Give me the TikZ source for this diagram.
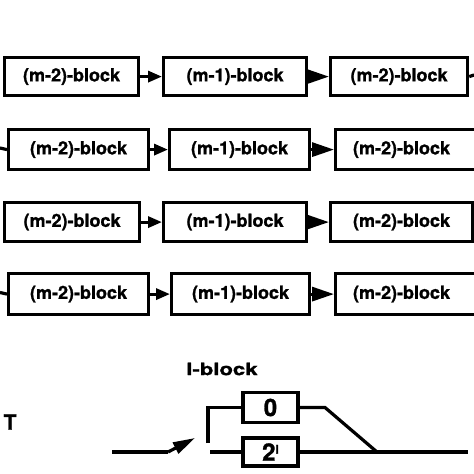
\documentclass[tikz,border=0pt]{standalone}
\usepackage{fontspec}
\setmainfont{TeX Gyre Heros}[BoldFeatures={FakeBold=1.2}]
\usetikzlibrary{arrows.meta}
\begin{document}
\begin{tikzpicture}[x=1pt,y=-1pt, line width=3.2pt,
  blk/.style={draw, inner sep=0pt, anchor=north west,
    font=\fontsize{18}{18}\selectfont\bfseries},
  sw/.style={draw, inner sep=0pt, minimum width=55pt,
    font=\fontsize{24}{24}\selectfont\bfseries},
  arrA/.style={-{Triangle[length=14pt,width=11pt]}},
  arrB/.style={-{Triangle[length=22pt,width=14pt]}},
  arrC/.style={-{Triangle[length=22pt,width=12pt]}}]
\useasboundingbox (0,0) rectangle (474,474);
\clip (0,0) rectangle (474,474);
% row 1
\node[blk, minimum width=134pt, minimum height=38pt] (a1) at (3,56) {(m-2)-block};
\node[blk, minimum width=143pt, minimum height=38pt] (a2) at (162,56) {(m-1)-block};
\node[blk, minimum width=137pt, minimum height=38pt] (a3) at (329,56) {(m-2)-block};
\coordinate (ae) at (474,75);
\draw[arrA] (a1.east) -- (a2.west);
\draw[arrB] (a2.east) -- (a3.west);
\draw (a3.east) -- (ae);
% row 2
\coordinate (bs) at (0,148);
\node[blk, minimum width=140pt, minimum height=40pt] (b1) at (7,128) {(m-2)-block};
\node[blk, minimum width=140pt, minimum height=40pt] (b2) at (168,128) {(m-1)-block};
\node[blk, minimum width=144pt, minimum height=40pt] (b3) at (334,128) {\hspace*{-12pt}(m-2)-block};
\draw (bs) -- (b1.west);
\draw[arrA] (b1.east) -- (b2.west);
\draw[arrB] (b2.east) -- (b3.west);
% row 3
\node[blk, minimum width=135pt, minimum height=39pt] (c1) at (3,201) {(m-2)-block};
\node[blk, minimum width=143pt, minimum height=39pt] (c2) at (162,201) {(m-1)-block};
\node[blk, minimum width=142pt, minimum height=39pt] (c3) at (329,201) {(m-2)-block};
\draw[arrA] (c1.east) -- (c2.west);
\draw[arrB] (c2.east) -- (c3.west);
% row 4
\coordinate (ds) at (0,292.5);
\node[blk, minimum width=140pt, minimum height=41pt] (d1) at (7,272) {(m-2)-block};
\node[blk, minimum width=138pt, minimum height=41pt] (d2) at (170,272) {(m-1)-block};
\node[blk, minimum width=144pt, minimum height=41pt] (d3) at (334,272) {\hspace*{-12pt}(m-2)-block};
\draw (ds) -- (d1.west);
\draw[arrA] (d1.east) -- (d2.west);
\draw[arrB] (d2.east) -- (d3.west);
% bottom
\node[font=\fontsize{17}{17}\selectfont\bfseries] (lbl) at (222,369) {\scalebox{1.3}[1]{l-block}};
\node[font=\fontsize{21}{21}\selectfont\bfseries] (T) at (10,422) {T};
\node[sw, minimum height=30pt] (z) at (270.5,407.5) {0};
\node[sw, minimum height=28pt] (p) at (270.5,452) {2\raisebox{7pt}{\fontsize{12}{12}\selectfont l}};
\coordinate (in) at (112,452);
\coordinate (ak) at (168,452);
\coordinate (atip) at (195,438);
\coordinate (c1b) at (208,443);
\coordinate (c2a) at (210,452);
\coordinate (k) at (325,407.5);
\coordinate (j) at (377,452);
\coordinate (out) at (468,452);
\draw (in) -- (ak);
\draw[arrC] (ak) -- (atip);
\draw (c1b) |- (z.west);
\draw (c2a) -- (p.west);
\draw (z.east) -- (k) -- (j);
\draw (p.east) -- (out);
\end{tikzpicture}
\end{document}
